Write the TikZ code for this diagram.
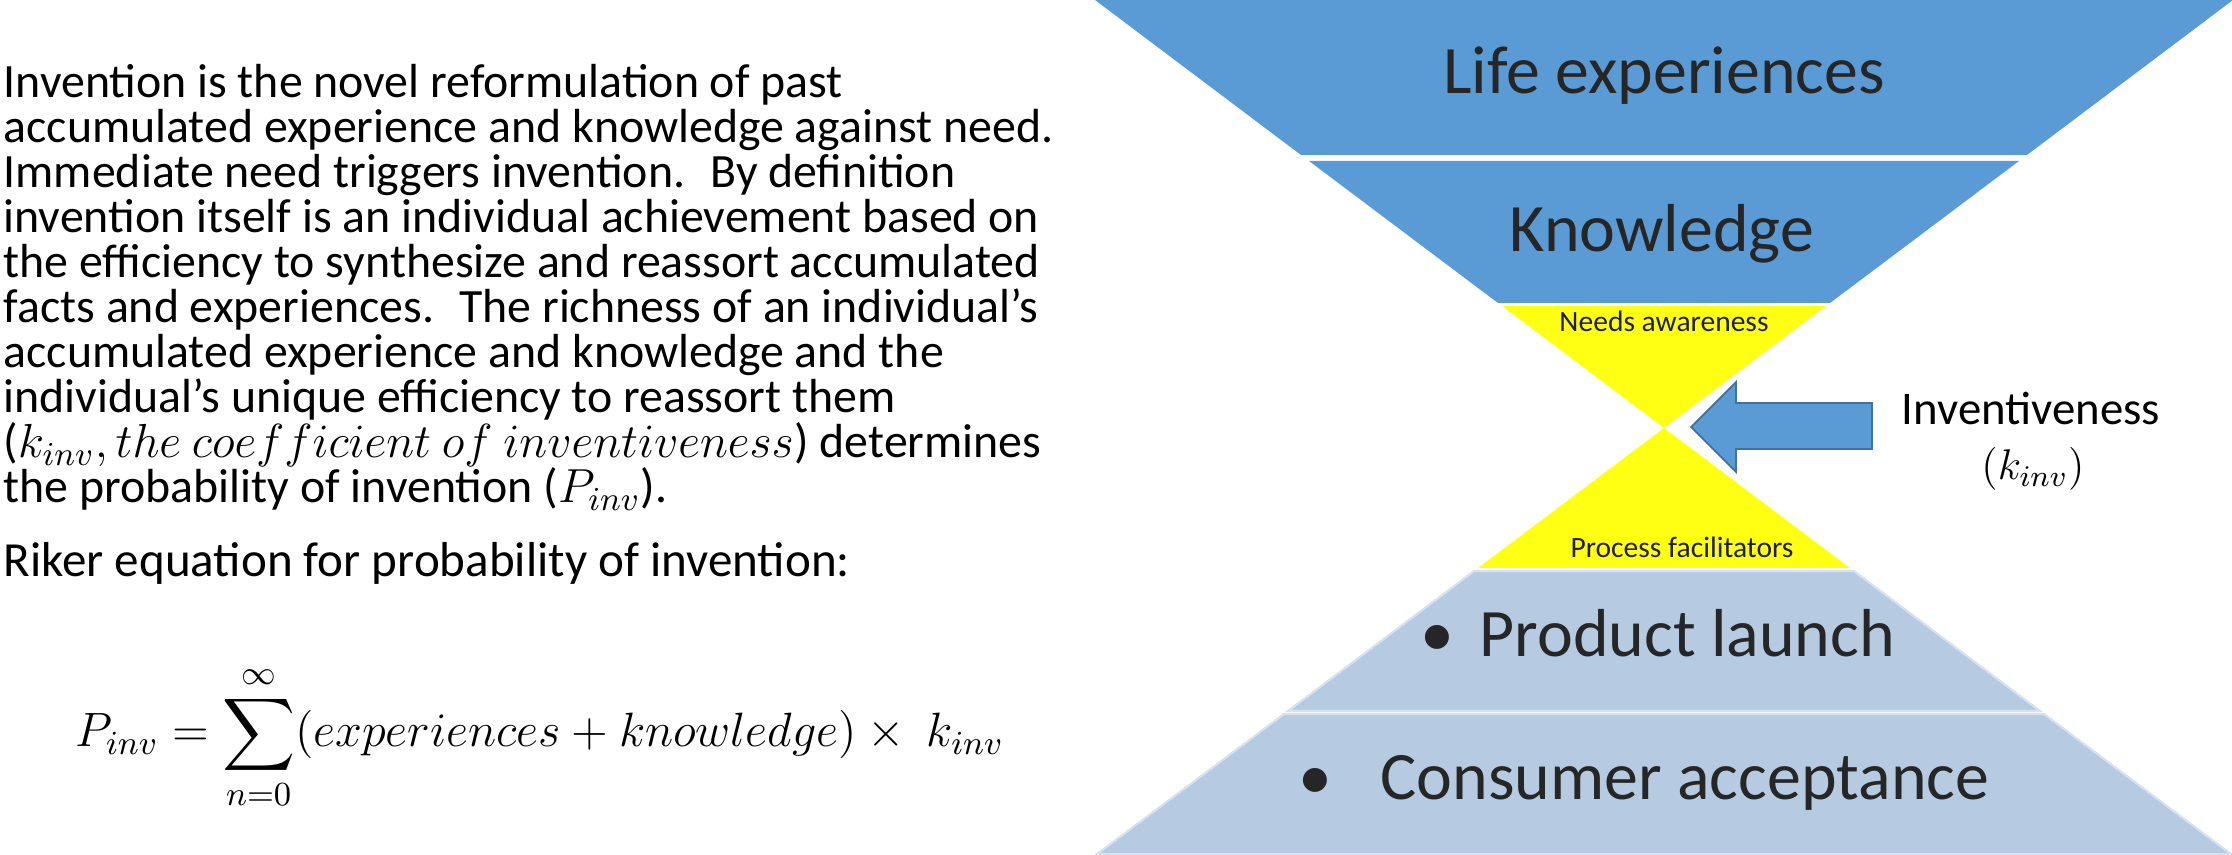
\RequirePackage{fix-cm}
\documentclass[tikz,border=0pt]{standalone}
\usepackage{amsmath}
\usepackage{fontspec}
\setmainfont{Carlito}
\usepackage{tikz}
\usetikzlibrary{positioning}
\definecolor{funnelblue}{RGB}{91,155,213}
\definecolor{funnellight}{RGB}{182,202,226}
\definecolor{funnelyellow}{RGB}{255,255,20}
\definecolor{arrowedge}{RGB}{65,113,156}
\definecolor{labelnavy}{RGB}{30,30,70}
\definecolor{labeldark}{RGB}{38,38,38}
\tikzstyle{bandlabel} = [anchor=base, inner sep=0pt, text=labeldark, font=\fontsize{19.3pt}{23pt}\selectfont]
\tikzstyle{bulletlabel} = [anchor=base west, inner sep=0pt, text=labeldark, font=\fontsize{19.3pt}{23pt}\selectfont]
\tikzstyle{smalllabel} = [anchor=base, inner sep=0pt, text=labelnavy, font=\fontsize{8.4pt}{10pt}\selectfont]
\tikzstyle{bodytext} = [anchor=base west, inner sep=0pt, align=left, font=\fontsize{13.6pt}{12.8pt}\selectfont]
\tikzstyle{lowband} = [fill=funnellight, draw=funnellight!55!white, line width=0.6pt]

\begin{document}
\begin{tikzpicture}[x=0.01cm, y=-0.01cm]
    \useasboundingbox (0,0) rectangle (2232,855);

    % Description
    \node[bodytext] (desc) at (3,503) {Invention is the novel reformulation of past\\
        accumulated experience and knowledge against need.\\
        Immediate need triggers invention.~ By definition\\
        invention itself is an individual achievement based on\\
        the efficiency to synthesize and reassort accumulated\\
        facts and experiences.~ The richness of an individual’s\\
        accumulated experience and knowledge and the\\
        individual’s unique efficiency to reassort them\\
        ($k_{inv}, the\ coefficient\ of\ inventiveness$) determines\\
        the probability of invention ($P_{inv}$).};
    \node[bodytext, font=\fontsize{13.95pt}{16pt}\selectfont] (riker) at (3,577) {Riker equation for probability of invention:};

    % Equation
    \node[anchor=base west, inner sep=0pt, font=\fontsize{13.7pt}{16pt}\selectfont] (formula) at (75,747)
        {$\displaystyle P_{inv} = \sum_{n=0}^{\infty}(experiences + knowledge) \times\ k_{inv}$};

    % Upper funnel
    \fill[funnelblue] (1095,0) -- (2233,0) -- (2027,155) -- (1301,155) -- cycle;
    \fill[funnelblue] (1309,161) -- (2019,161) -- (1830,303) -- (1498,303) -- cycle;
    \fill[funnelyellow] (1502,306) -- (1826,306) -- (1664,428) -- cycle;

    % Lower pyramid
    \fill[funnelyellow] (1664,428) -- (1850,568) -- (1478,568) -- cycle;
    \filldraw[lowband] (1474,571) -- (1854,571) -- (2040,711) -- (1288,711) -- cycle;
    \filldraw[lowband] (1284,714) -- (2044,714) -- (2231,854) -- (1097,854) -- cycle;

    % Labels
    \node[bandlabel] (life) at (1664,94) {Life experiences};
    \node[bandlabel] (know) at (1662,252) {Knowledge};
    \node[smalllabel] (needs) at (1664,332) {Needs awareness};
    \node[smalllabel] (facil) at (1682,558) {Process facilitators};
    \node[bulletlabel] (launch) at (1479,657) {\llap{\textbullet\hspace{7.2pt}}Product launch};
    \node[bulletlabel] (consumer) at (1380,800) {\llap{\textbullet\hspace{13.7pt}}Consumer acceptance};

    % Inventiveness
    \filldraw[fill=funnelblue, draw=arrowedge, line width=0.5pt] (1691,427) -- (1736,382) -- (1736,403)
        -- (1872,403) -- (1872,449) -- (1736,449) -- (1736,472) -- cycle;
    \node[anchor=base, inner sep=0pt, font=\fontsize{13.3pt}{16pt}\selectfont] (invent) at (2031,425) {Inventiveness};
    \node[anchor=base, inner sep=0pt, font=\fontsize{12.2pt}{16pt}\selectfont] (kinv) at (2033,480) {$(k_{inv})$};
\end{tikzpicture}
\end{document}
